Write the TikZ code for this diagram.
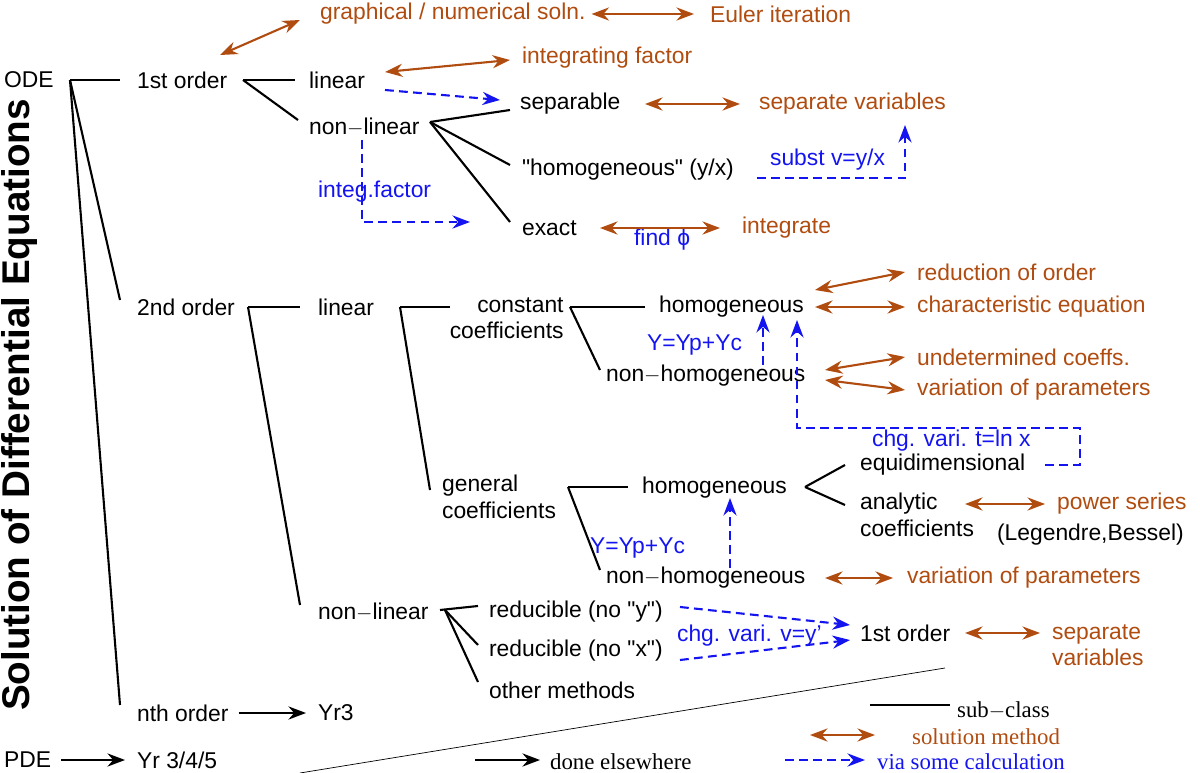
\documentclass[tikz,border=0pt]{standalone}
\usepackage{fontspec}
\setmainfont{Liberation Sans}
\newfontfamily\legfont{Liberation Serif}
\usetikzlibrary{arrows.meta, positioning, calc}
\definecolor{solbrown}{RGB}{176, 76, 16}
\definecolor{calcblue}{RGB}{20, 20, 240}
\newcommand{\qq}{\textquotedbl}
\tikzset{
    txt/.style={anchor=west, inner sep=1pt, font=\fontsize{13}{15}\selectfont, align=left},
    btxt/.style={txt, text=solbrown},
    ctxt/.style={txt, text=calcblue},
    leg/.style={anchor=west, inner sep=1pt, font=\legfont\fontsize{13}{15}\selectfont},
    sub/.style={line width=1.2pt, black},
    sol/.style={{Stealth[length=3.5mm]}-{Stealth[length=3.5mm]}, very thick, color=solbrown},
    calc/.style={-{Stealth[length=3.5mm]}, line width=1.2pt, dash pattern=on 5pt off 3pt, color=calcblue},
    done/.style={-{Stealth[length=3.5mm]}, line width=1.2pt, black},
}
\begin{document}
\begin{tikzpicture}[x=0.02cm, y=-0.02cm]
    \useasboundingbox (0,0) rectangle (1200,773);
    \node[rotate=90, font=\bfseries\fontsize{22}{24}\selectfont] (title) at (20,405) {Solution of Differential Equations};

    % first level
    \node[txt] (ode) at (2,80) {ODE};
    \node[txt] (pde) at (2,760) {PDE};
    \node[txt] (o1) at (135,80) {1st order};
    \node[txt] (o2) at (135,307) {2nd order};
    \node[txt] (on) at (135,713) {nth order};
    \node[txt] (yr3) at (316,713) {Yr3};
    \node[txt] (yr345) at (135,760) {Yr 3/4/5};

    % first order
    \node[txt] (lin1) at (307,80) {linear};
    \node[txt] (nl1) at (307,127) {non$-$linear};
    \node[btxt] (graph) at (318,14) {graphical / numerical soln.};
    \node[btxt] (euler) at (708,14) {Euler iteration};
    \node[btxt] (intf) at (520,58) {integrating factor};
    \node[txt] (sep) at (518,104) {separable};
    \node[btxt] (sepv) at (757,104) {separate variables};
    \node[txt] (hom1) at (520,170) {\qq homogeneous\qq\ (y/x)};
    \node[txt] (exact) at (520,228) {exact};
    \node[btxt] (integ) at (740,228) {integrate};
    \node[ctxt] (findphi) at (632,240) {find ϕ};
    \node[ctxt] (ifac) at (316,192) {integ.factor};
    \node[ctxt] (subst) at (768,160) {subst v=y/x};

    % second order
    \node[txt] (lin2) at (316,307) {linear};
    \node[txt, align=right] (const) at (440,318) {\hspace*{20pt}constant\\coefficients};
    \node[txt] (hom2) at (657,307) {homogeneous};
    \node[btxt] (red) at (915,272) {reduction of order};
    \node[btxt] (char) at (915,307) {characteristic equation};
    \node[ctxt] (ypc1) at (645,345) {Y=Yp+Yc};
    \node[txt] (nh2) at (604,376) {non$-$homogeneous};
    \node[btxt] (undet) at (915,357) {undetermined coeffs.};
    \node[btxt] (var1) at (915,390) {variation of parameters};
    \node[ctxt] (chgt) at (870,441) {chg. vari. t=ln x};
    \node[txt] (equi) at (858,465) {equidimensional};
    \node[txt] (gen) at (440,497) {general\\coefficients};
    \node[txt] (hom3) at (640,488) {homogeneous};
    \node[txt] (anal) at (858,515) {analytic\\coefficients};
    \node[btxt] (pows) at (1055,504) {power series};
    \node[txt] (leg) at (995,535) {(Legendre,Bessel)};
    \node[ctxt] (ypc2) at (588,548) {Y=Yp+Yc};
    \node[txt] (nh3) at (604,578) {non$-$homogeneous};
    \node[btxt] (var2) at (905,578) {variation of parameters};
    \node[txt] (nl2) at (316,612) {non$-$linear};
    \node[txt] (rdy) at (487,612) {reducible (no \qq y\qq)};
    \node[txt] (rdx) at (487,651) {reducible (no \qq x\qq)};
    \node[txt] (oth) at (487,690) {other methods};
    \node[txt] (fo) at (858,633) {1st order};
    \node[ctxt] (chgv) at (675,636) {chg. vari. v=y'};
    \node[btxt] (sepv2) at (1050,645) {separate\\variables};

    % legend
    \node[leg] (lsub) at (955,710) {sub$-$class};
    \node[leg, text=solbrown] (lsol) at (910,737) {solution method};
    \node[leg] (ldone) at (548,762) {done elsewhere};
    \node[leg, text=calcblue] (lcalc) at (875,762) {via some calculation};
    \draw[thin] (300,773) -- (945,668);

    % sub-class lines
    \draw[sub] (70,80) -- (120,80);
    \draw[sub] (70,80) -- (120,300);
    \draw[sub] (70,80) -- (120,705);
    \draw[sub] (243,80) -- (295,80);
    \draw[sub] (243,80) -- (298,120);
    \draw[sub] (430,122) -- (510,110);
    \draw[sub] (430,122) -- (510,165);
    \draw[sub] (430,122) -- (510,222);
    \draw[sub] (248,307) -- (300,307);
    \draw[sub] (248,307) -- (300,605);
    \draw[sub] (400,307) -- (450,307);
    \draw[sub] (400,307) -- (430,490);
    \draw[sub] (570,307) -- (645,307);
    \draw[sub] (570,307) -- (600,370);
    \draw[sub] (568,487) -- (628,487);
    \draw[sub] (568,487) -- (600,570);
    \draw[sub] (805,487) -- (845,465);
    \draw[sub] (805,487) -- (845,505);
    \draw[sub] (440,610) -- (478,606);
    \draw[sub] (445,610) -- (478,645);
    \draw[sub] (445,610) -- (478,682);
    \draw[sub] (870,705) -- (950,705);

    % solution methods
    \draw[sol] (220,55) -- (300,20);
    \draw[sol] (graph.east) ++(4,0) -- ($(euler.west)+(-14,0)$);
    \draw[sol] (385,72) -- (510,60);
    \draw[sol] (645,104) -- (740,104);
    \draw[sol] (600,228) -- (720,228);
    \draw[sol] (815,290) -- (905,272);
    \draw[sol] (815,307) -- (905,307);
    \draw[sol] (825,370) -- (905,357);
    \draw[sol] (825,380) -- (905,390);
    \draw[sol] (965,504) -- (1045,504);
    \draw[sol] (825,578) -- (893,578);
    \draw[sol] (965,633) -- (1040,633);
    \draw[sol] (810,735) -- (875,735);

    % via some calculation
    \draw[calc] (385,90) -- (500,100);
    \draw[calc] (362,140) -- (362,222) -- (470,222);
    \draw[calc] (757,178) -- (905,178) -- (905,125);
    \draw[calc] (763,365) -- (763,315);
    \draw[calc] (1045,465) -- (1080,465) -- (1080,428) -- (797,428) -- (797,320);
    \draw[calc] (730,568) -- (730,498);
    \draw[calc] (680,607) -- (850,625);
    \draw[calc] (680,660) -- (850,640);
    \draw[calc] (785,760) -- (865,760);

    % done elsewhere
    \draw[done] (on.east) ++(8,0) -- ($(yr3.west)+(-10,0)$);
    \draw[done] (pde.east) ++(8,0) -- ($(yr345.west)+(-10,0)$);
    \draw[done] (475,760) -- (540,760);
\end{tikzpicture}
\end{document}
